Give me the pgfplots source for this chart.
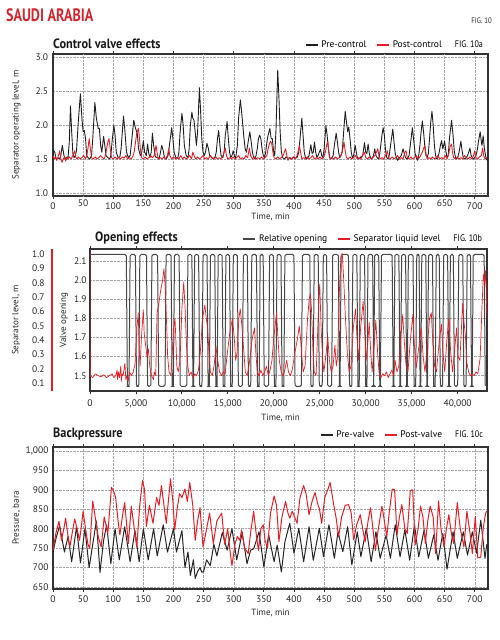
\documentclass[border=0pt]{standalone}
\usepackage{fontspec}
\setmainfont{PT Sans}
\usepackage{graphicx}
\usepackage{pgfplots}
\pgfplotsset{compat=1.18}

\definecolor{serred}{RGB}{232,30,38}
\definecolor{hdred}{RGB}{214,38,45}
\definecolor{gridgray}{RGB}{165,165,165}

\pgfplotsset{
  panel/.style={
    scale only axis,
    /pgf/number format/assume math mode=true,
    tick label style={font=\fontsize{9.5}{10}\selectfont, text=black!85},
    label style={font=\fontsize{9}{10}\selectfont, text=black!85},
    axis line style={black!80, line width=1.1pt},
    grid style={gridgray, densely dotted, line width=0.45pt},
    xtick align=outside,
    major tick length=3pt,
    tick style={black!80, line width=0.8pt},
    ytick style={draw=none},
    legend style={draw=none, fill=none, font=\fontsize{9.5}{10}\selectfont,
      legend columns=-1, outer sep=0pt,
      /tikz/every odd column/.append style={column sep=1pt},
      /tikz/every even column/.append style={column sep=8pt}},
    legend image code/.code={\draw[#1, line width=1.3pt] (0pt,0pt) -- (12pt,0pt);},
  },
  onedec/.style={/pgf/number format/fixed, /pgf/number format/fixed zerofill,
    /pgf/number format/precision=1},
}

\begin{document}
\begin{tikzpicture}[x=1pt,y=1pt]
\useasboundingbox (0,0) rectangle (499,-640);

% ---------------- Fig. 10a: separator level before / after control ----------------
\begin{axis}[panel,
  at={(53pt,-54pt)}, anchor=north west, width=435pt, height=142pt,
  xmin=0, xmax=722, ymin=0.955, ymax=3.045,
  xtick={0,100,...,700}, extra x ticks={50,150,...,650},
  extra x tick style={grid=major, major tick length=0pt},
  ytick={1,1.5,2,2.5,3}, yticklabel style={onedec, xshift=-1.5pt},
  grid=major,
  xlabel={Time, min}, xlabel style={at={(axis description cs:0.5,0)}, anchor=center, yshift=-21pt},
  ylabel={Separator operating level, m},
  ylabel style={at={(axis description cs:-0.084,0.5)}, anchor=center},
  legend style={at={(axis description cs:1,1)}, anchor=south east, yshift=1pt},
]
\addplot[black!88, line width=0.9pt, line join=round] coordinates {
(0,1.48)(1,1.62)(3,1.60)(5,1.50)(8,1.52)(11,1.50)(13,1.55)(15.5,1.70)(18,1.56)(20,1.50)
(23,1.53)(25,1.52)(27,1.75)(29,2.28)(31,1.90)(33,1.58)(35,1.52)(37,1.55)(39,1.62)(42,2.05)
(45.5,2.46)(48,2.10)(50,1.90)(52,1.92)(54,1.80)(56,1.55)(58,1.52)(61,1.50)(64,1.55)(66,1.80)
(69.5,2.33)(72,2.10)(75,1.95)(77,1.95)(79,1.70)(81,1.60)(84,1.83)(86,1.70)(88,1.55)(91,1.52)
(94,1.50)(96,1.55)(98,1.75)(101,2.00)(103,1.85)(105,1.60)(108,1.52)(111,1.53)(113,1.65)(117,2.13)
(119,1.95)(122,1.60)(125,1.52)(128,1.55)(131,1.80)(134,2.07)(137,1.95)(140,1.87)(142,1.65)(145,1.55)
(147,1.58)(150,1.77)(152,1.60)(155,1.55)(157,1.72)(159,1.58)(161,1.52)(163,1.60)(165,1.88)(167,1.70)
(170,1.53)(173,1.52)(176,1.50)(178,1.58)(180.5,1.70)(183,1.62)(185,1.52)(188,1.50)(191,1.55)(194,1.75)
(197,1.96)(199,1.80)(201,1.60)(204,1.52)(207,1.51)(209,1.60)(211,1.90)(214,2.17)(216,2.00)(218,1.70)
(221,1.55)(224,1.52)(226,1.65)(228,2.00)(230.5,2.19)(232,2.10)(234,2.07)(236,1.90)(238,1.70)(240,1.90)
(243,2.55)(245,2.20)(247,1.80)(249,1.60)(251,1.55)(253,1.60)(255.5,1.73)(258,1.65)(260,1.55)(263,1.52)
(266,1.50)(269,1.53)(271,1.60)(273,1.80)(275,1.92)(277,1.70)(279,1.55)(282,1.52)(284,1.60)(286,1.85)
(289,2.05)(291,1.80)(293,1.60)(295,1.52)(297,1.55)(299,1.62)(301,1.55)(303,1.50)(306,1.70)(308,2.10)
(311,2.37)(313,2.20)(315,2.00)(317,1.80)(319,1.65)(321,1.60)(323,1.70)(326.7,1.90)(329,1.75)(331,1.60)
(333,1.52)(335,1.50)(337,1.55)(339,1.65)(341,1.80)(343,1.85)(345,1.80)(347,1.65)(349,1.55)(351,1.52)
(353,1.60)(355,1.75)(357,1.85)(360,1.95)(362,1.80)(364,1.80)(366,1.62)(368,1.55)(370,1.90)(373,2.81)
(375,2.40)(377,1.90)(379,1.61)(381,1.52)(384,1.50)(387,1.53)(390,1.51)(393,1.52)(396,1.50)(399,1.53)
(402,1.51)(405,1.52)(408,1.60)(411,1.90)(413,2.10)(415,1.85)(417,1.60)(419,1.52)(421,1.50)(423,1.52)
(425,1.55)(428,1.71)(430,1.58)(432,1.60)(434,1.75)(436,1.60)(438,1.52)(440,1.55)(442,1.60)(444,1.64)
(446,1.55)(448,1.52)(450,1.65)(453,1.99)(455,1.85)(457,1.65)(459,1.52)(461,1.50)(463,1.52)(465,1.55)
(467,1.70)(470,1.88)(472,1.75)(474,1.60)(476,1.52)(478,1.55)(480,1.60)(482,1.85)(485,2.20)(487,2.05)
(489,1.90)(491,1.97)(493,1.80)(495,1.60)(497,1.52)(499,1.55)(501.5,1.70)(503,1.62)(505,1.52)(508,1.50)
(511,1.53)(514,1.55)(517,1.74)(519,1.60)(521,1.58)(523,1.72)(525,1.58)(527,1.52)(529,1.50)(532,1.55)
(534,1.65)(536,1.55)(538,1.52)(540,1.50)(542,1.55)(544,1.70)(546,1.85)(548,1.96)(550,1.85)(552,1.62)
(554,1.52)(556,1.50)(558,1.55)(561,1.75)(564,1.94)(566,1.75)(568,1.58)(570,1.52)(572,1.48)(575,1.52)
(578,1.55)(581,1.65)(583,1.58)(585,1.52)(588,1.50)(591,1.55)(593,1.70)(596.5,1.96)(599,1.75)(601,1.58)
(603,1.52)(605,1.48)(607,1.55)(609,1.70)(611,1.90)(613,2.06)(615,1.90)(617,1.70)(619,1.55)(621,1.52)
(623,1.58)(625,1.80)(627,2.05)(629,2.20)(631,2.00)(633,1.70)(635,1.55)(637,1.50)(639,1.52)(641,1.60)
(643,1.70)(645,1.77)(647,1.65)(650,1.76)(652,1.62)(654,1.52)(656,1.55)(658,1.80)(661.5,2.07)(664,1.85)
(666,1.62)(668,1.52)(670,1.50)(672,1.53)(674,1.60)(677,1.76)(679,1.62)(681,1.52)(683,1.50)(686,1.52)
(688,1.55)(690,1.60)(692,1.66)(694,1.55)(696,1.52)(698,1.50)(700,1.52)(702,1.55)(704,1.62)(706,1.75)
(709,1.90)(711,1.75)(712,1.70)(714,1.84)(716,1.65)(718,1.55)(720,1.48)
};
\addlegendentry{Pre-control}
\addplot[serred, line width=0.9pt, line join=round] coordinates {
(0,1.55)(2,1.50)(4,1.53)(6,1.48)(8,1.52)(10,1.58)(11,1.62)(13,1.50)(15,1.45)(17,1.50)
(19,1.53)(21,1.47)(23,1.52)(25,1.50)(27,1.53)(30,1.50)(33,1.55)(36,1.62)(38,1.52)(40,1.50)
(42,1.53)(45,1.50)(48,1.52)(51,1.55)(54,1.50)(56,1.55)(58,1.65)(60,1.80)(62,1.65)(64,1.52)
(67,1.50)(70,1.53)(73,1.50)(76,1.52)(79,1.55)(82,1.52)(85,1.50)(87,1.55)(89,1.65)(91,1.75)
(93,1.80)(95,1.65)(97,1.52)(100,1.50)(103,1.53)(106,1.50)(109,1.52)(112,1.50)(115,1.53)(118,1.51)
(121,1.55)(124,1.50)(127,1.52)(130,1.50)(133,1.55)(135,1.62)(137,1.75)(139,1.88)(141.7,1.95)(143,1.85)
(145,1.65)(147,1.52)(150,1.50)(153,1.53)(156,1.50)(159,1.52)(162,1.55)(165,1.52)(168,1.55)(171,1.70)
(173,1.58)(175,1.50)(178,1.52)(181,1.50)(184,1.53)(187,1.50)(190,1.55)(192,1.65)(194,1.55)(197,1.50)
(200,1.53)(203,1.50)(206,1.52)(209,1.50)(212,1.55)(215,1.50)(218,1.53)(221,1.50)(224,1.52)(227,1.55)
(230,1.50)(232,1.60)(234,1.55)(237,1.50)(240,1.53)(243,1.50)(246,1.52)(249,1.55)(252,1.50)(255,1.52)
(258,1.50)(261,1.55)(264,1.52)(267,1.50)(270,1.53)(273,1.50)(276,1.52)(279,1.50)(282,1.55)(284,1.60)
(286,1.66)(288,1.55)(290,1.50)(293,1.52)(296,1.50)(299,1.53)(302,1.50)(305,1.52)(308,1.55)(311,1.50)
(314,1.52)(317,1.50)(320,1.55)(323,1.52)(326,1.66)(328,1.55)(331,1.50)(334,1.53)(337,1.50)(340,1.52)
(343,1.50)(346,1.53)(349,1.50)(352,1.52)(355,1.55)(357,1.65)(359,1.72)(361,1.76)(363,1.73)(365,1.60)
(367,1.52)(370,1.50)(373,1.53)(376,1.50)(379,1.52)(382,1.55)(384,1.60)(386,1.65)(388,1.55)(390,1.48)
(393,1.52)(396,1.50)(399,1.53)(402,1.50)(405,1.55)(407,1.62)(409,1.70)(411,1.60)(413,1.50)(416,1.52)
(419,1.50)(422,1.53)(425,1.50)(428,1.52)(431,1.55)(434,1.50)(437,1.52)(440,1.50)(443,1.53)(446,1.50)
(449,1.52)(452,1.60)(454,1.70)(456,1.76)(458,1.60)(460,1.50)(463,1.52)(466,1.50)(469,1.53)(472,1.50)
(475,1.52)(478,1.55)(481,1.65)(483,1.75)(485,1.62)(487,1.52)(490,1.50)(493,1.53)(496,1.50)(499,1.52)
(502,1.55)(505,1.50)(508,1.52)(511,1.50)(514,1.55)(517,1.60)(519,1.52)(522,1.50)(525,1.53)(528,1.50)
(531,1.52)(534,1.55)(537,1.60)(539,1.65)(541,1.55)(543,1.50)(546,1.52)(549,1.50)(552,1.55)(555,1.62)
(557,1.52)(560,1.50)(563,1.53)(566,1.50)(569,1.52)(572,1.55)(575,1.50)(578,1.52)(581,1.50)(584,1.60)
(586,1.62)(588,1.52)(591,1.50)(594,1.53)(597,1.50)(600,1.52)(603,1.55)(606,1.50)(609,1.53)(612,1.58)
(615,1.65)(617,1.70)(619,1.58)(621,1.50)(624,1.52)(627,1.50)(630,1.53)(633,1.50)(636,1.52)(639,1.55)
(642,1.50)(645,1.52)(648,1.50)(651,1.55)(654,1.50)(657,1.58)(659,1.68)(661.5,1.72)(663,1.60)(665,1.52)
(668,1.50)(671,1.53)(674,1.50)(677,1.52)(680,1.50)(683,1.55)(686,1.52)(689,1.50)(692,1.53)(695,1.50)
(698,1.55)(700,1.62)(702,1.52)(705,1.50)(708,1.53)(711,1.55)(713,1.66)(715,1.55)(717,1.50)(720,1.52)
};
\addlegendentry{Post-control}
\addlegendimage{empty legend}
\addlegendentry{\scalebox{0.85}[1]{FIG.~10a}}
\end{axis}

% ---------------- Fig. 10b: secondary level scale on the left ----------------
\begin{axis}[panel,
  at={(52pt,-249pt)}, anchor=north west, width=1pt, height=142pt,
  xmin=0, xmax=1, ymin=0.045, ymax=1.035,
  hide x axis, axis y line*=left,
  y axis line style={serred, line width=1.8pt},
  ytick={0.1,0.2,0.3,0.4,0.5,0.6,0.7,0.8,0.9,1.0},
  yticklabel style={onedec, xshift=-4pt},
  major tick length=0pt,
  ylabel={Separator level, m},
  ylabel style={at={(axis description cs:-36,0.5)}, anchor=center},
]
\addplot[draw=none] coordinates {(0.5,0.5)};
\end{axis}

% ---------------- Fig. 10b: valve opening and liquid level ----------------
\begin{axis}[panel,
  at={(90pt,-249pt)}, anchor=north west, width=397pt, height=142pt,
  xmin=0, xmax=43200, ymin=1.42, ymax=2.163,
  xtick={0,5000,...,40000}, scaled x ticks=false,
  xticklabel style={/pgf/number format/1000 sep={,}, yshift=-2pt},
  ytick={1.5,1.6,1.7,1.8,1.9,2.0,2.1}, yticklabel style={onedec},
  ymajorgrids,
  xlabel={Time, min}, xlabel style={at={(axis description cs:0.48,0)}, anchor=center, yshift=-27pt},
  ylabel={Valve opening},
  ylabel style={at={(axis description cs:-0.066,0.5)}, anchor=center},
  legend style={at={(axis description cs:1,1)}, anchor=south east, yshift=2pt},
]
\addplot[black!72, line width=1pt, rounded corners=1.5pt] coordinates {
(0,2.135)(3950,2.135)(4070,1.444)
(4245,1.444)(4365,2.135)(4940,2.135)(5060,1.444)
(5306,1.444)(5426,2.135)(6147,2.135)(6267,1.444)
(6623,1.444)(6743,2.135)(7355,2.135)(7475,1.444)
(8160,1.444)(8280,2.135)(8818,2.135)(8938,1.444)
(9074,1.444)(9194,2.135)(9696,2.135)(9816,1.444)
(10537,1.444)(10657,2.135)(11086,2.135)(11206,1.444)
(11269,1.444)(11389,2.135)(11818,2.135)(11938,1.444)
(12183,1.444)(12303,2.135)(12732,2.135)(12852,1.444)
(12988,1.444)(13108,2.135)(13573,2.135)(13693,1.444)
(13829,1.444)(13949,2.135)(14378,2.135)(14498,1.444)
(14670,1.444)(14790,2.135)(15183,2.135)(15303,1.444)
(15476,1.444)(15596,2.135)(16025,2.135)(16145,1.444)
(16573,1.444)(16693,2.135)(17122,2.135)(17242,1.444)
(17488,1.444)(17608,2.135)(18110,2.135)(18230,1.444)
(18403,1.444)(18523,2.135)(18842,2.135)(18962,1.444)
(19427,1.444)(19547,2.135)(19940,2.135)(20060,1.444)
(20233,1.444)(20353,2.135)(20782,2.135)(20902,1.444)
(21090,1.444)(21210,2.135)(22190,2.135)(22310,1.444)
(23001,1.444)(23121,2.135)(23916,2.135)(24036,1.444)
(24282,1.444)(24402,2.135)(24830,2.135)(24950,1.444)
(25269,1.444)(25389,2.135)(25745,2.135)(25865,1.444)
(26293,1.444)(26413,2.135)(27025,2.135)(27145,1.444)
(27208,1.444)(27328,2.135)(28123,2.135)(28243,1.444)
(28488,1.444)(28608,2.135)(29037,2.135)(29157,1.444)
(29293,1.444)(29413,2.135)(29878,2.135)(29998,1.444)
(30134,1.444)(30254,2.135)(30756,2.135)(30876,1.444)
(30866,1.444)(30986,2.135)(31415,2.135)(31535,1.444)
(31598,1.444)(31718,2.135)(32878,2.135)(32998,1.444)
(33061,1.444)(33181,2.135)(33609,2.135)(33729,1.444)
(33792,1.444)(33912,2.135)(34341,2.135)(34461,1.444)
(34524,1.444)(34644,2.135)(35146,2.135)(35266,1.444)
(35439,1.444)(35559,2.135)(35804,2.135)(35924,1.444)
(35987,1.444)(36107,2.135)(36536,2.135)(36656,1.444)
(36719,1.444)(36839,2.135)(37268,2.135)(37388,1.444)
(37560,1.444)(37680,2.135)(38000,2.135)(38120,1.444)
(38365,1.444)(38485,2.135)(38914,2.135)(39034,1.444)
(39097,1.444)(39217,2.135)(39536,2.135)(39656,1.444)
(40011,1.444)(40131,2.135)(40560,2.135)(40680,1.444)
(40926,1.444)(41046,2.135)(41401,2.135)(41521,1.444)
(41584,1.444)(41704,2.135)(42890,2.135)(43010,1.444)(43200,1.444)
};
\addlegendentry{Relative opening}
\addplot[serred, line width=0.7pt, line join=round] coordinates {
(0,2.16)(20,1.50)(300,1.49)(600,1.51)(900,1.50)(1200,1.495)(1500,1.505)(1800,1.49)(2100,1.50)(2400,1.51)
(2600,1.49)(2800,1.50)(2950,1.53)(3000,1.48)(3100,1.52)(3200,1.49)(3350,1.55)(3400,1.47)(3500,1.51)(3600,1.50)
(3800,1.565)(3900,1.48)(4000,1.50)(4150,1.47)(4300,1.52)(4500,1.50)(4700,1.52)(4900,1.56)(5100,1.75)(5250,1.83)
(5350,1.65)(5450,1.55)(5600,1.70)(5800,1.845)(5900,1.72)(6050,1.66)(6200,1.60)(6350,1.64)(6500,1.55)(6700,1.50)
(6900,1.48)(7000,1.52)(7150,1.50)(7300,1.83)(7500,1.88)(7700,1.95)(7900,2.00)(8050,2.06)(8200,1.95)(8350,1.75)
(8450,1.60)(8600,1.52)(8800,1.50)(8950,1.62)(9100,1.75)(9250,1.80)(9350,1.68)(9450,1.55)(9600,1.52)(9800,1.58)
(10000,1.85)(10200,1.99)(10350,1.85)(10500,1.66)(10650,1.55)(10800,1.50)(11000,1.52)(11200,1.49)(11400,1.51)(11600,1.50)
(11800,1.53)(12000,1.62)(12250,1.80)(12500,1.87)(12650,1.80)(12800,1.75)(12950,1.62)(13100,1.52)(13300,1.50)(13500,1.55)
(13700,1.65)(13900,1.58)(14100,1.52)(14300,1.50)(14500,1.52)(14700,1.51)(14900,1.60)(15200,1.72)(15500,1.80)(15700,1.70)
(15850,1.58)(16000,1.62)(16200,1.80)(16350,1.85)(16550,1.75)(16750,1.62)(16900,1.52)(17100,1.50)(17300,1.55)(17600,1.68)
(17900,1.75)(18050,1.62)(18200,1.52)(18400,1.50)(18600,1.53)(18800,1.50)(19000,1.52)(19200,1.55)(19400,1.50)(19600,1.53)
(19800,1.58)(20000,1.70)(20300,1.83)(20450,1.70)(20600,1.58)(20800,1.52)(21000,1.50)(21200,1.53)(21400,1.58)(21600,1.52)
(21800,1.50)(22000,1.53)(22300,1.62)(22600,1.70)(22770,1.76)(22900,1.70)(23050,1.60)(23200,1.52)(23400,1.55)(23650,1.78)
(23850,1.90)(23980,1.93)(24100,1.85)(24250,1.65)(24400,1.52)(24600,1.50)(24750,1.70)(24900,1.90)(25000,1.98)(25150,1.75)
(25300,1.60)(25450,1.52)(25650,1.60)(25880,1.70)(26050,1.58)(26250,1.52)(26450,1.55)(26650,1.66)(26800,1.55)(26950,1.60)
(27100,1.90)(27300,2.12)(27450,2.14)(27600,2.01)(27800,1.80)(28000,1.62)(28200,1.52)(28400,1.55)(28650,1.75)(28900,1.85)
(29050,1.70)(29200,1.58)(29450,1.75)(29720,1.89)(29900,1.72)(30050,1.58)(30200,1.65)(30380,1.78)(30550,1.62)(30700,1.52)
(30900,1.65)(31100,1.79)(31300,1.62)(31450,1.52)(31650,1.49)(31850,1.51)(32050,1.50)(32250,1.52)(32450,1.49)(32650,1.51)
(32850,1.53)(33050,1.50)(33200,1.58)(33400,1.52)(33600,1.55)(33850,1.72)(34030,1.82)(34200,1.68)(34400,1.55)(34600,1.52)
(34850,1.68)(35130,1.82)(35300,1.66)(35500,1.54)(35700,1.62)(36050,1.75)(36250,1.60)(36450,1.52)(36700,1.65)(36950,1.80)
(37140,1.83)(37300,1.68)(37500,1.55)(37700,1.52)(38000,1.68)(38240,1.77)(38400,1.62)(38600,1.52)(38850,1.70)(39050,1.80)
(39250,1.62)(39450,1.52)(39650,1.62)(39890,1.75)(40050,1.60)(40250,1.58)(40550,1.88)(40700,1.78)(40850,1.71)(41000,1.57)
(41200,1.52)(41400,1.50)(41600,1.51)(41800,1.50)(42000,1.52)(42200,1.51)(42450,1.59)(42650,1.85)(42800,2.03)(42950,1.98)
(43050,2.05)(43200,1.80)
};
\addlegendentry{Separator liquid level}
\addlegendimage{empty legend}
\addlegendentry{\scalebox{0.85}[1]{FIG.~10b}}
\end{axis}

% ---------------- Fig. 10c: pressure upstream / downstream of the valve ----------------
\begin{axis}[panel,
  at={(53pt,-447pt)}, anchor=north west, width=435pt, height=142pt,
  xmin=0, xmax=722, ymin=645, ymax=1010,
  xtick={0,50,...,700},
  ytick={650,700,...,1000}, yticklabel style={/pgf/number format/1000 sep={,}, xshift=-1pt},
  grid=major,
  xlabel={Time, min}, xlabel style={at={(axis description cs:0.5,0)}, anchor=center, yshift=-24pt},
  ylabel={Pressure, bara},
  ylabel style={at={(axis description cs:-0.084,0.5)}, anchor=center},
  legend style={at={(axis description cs:1,1)}, anchor=south east, yshift=4pt},
]
\addplot[black!85, line width=1pt, line join=round] coordinates {
(0,740)(5,775)(11,808)(19,740)(25,780)(31,715)(39,805)(45.6,712)(53,800)(60,700)
(66,760)(72,820)(78,688)(84,770)(89,810)(96,710)(103,800)(110,720)(119,805)(128,715)
(136,795)(143,715)(150,800)(158,720)(167,800)(173,730)(183,810)(190,740)(200,800)(205,740)
(214,795)(219,700)(224,740)(228,680)(233,720)(236,672)(240,690)(244,700)(247,688)(250,690)
(255,720)(261,705)(267,760)(272,730)(281,790)(289,745)(297,800)(305,720)(314,790)(322,710)
(328,745)(333,748)(342,792)(350,702)(358,784)(367,715)(372,758)(379,689)(385,767)(393,814)
(400,737)(408,801)(416,715)(425,805)(432,719)(442,801)(449,728)(458,810)(467,724)(473,792)
(481,741)(489,805)(496,707)(505,792)(511,728)(520,801)(528,715)(536,792)(543,724)(553,784)
(560,724)(568,810)(576,728)(584,797)(592,719)(600,810)(607,728)(616,797)(623,724)(632,784)
(639,719)(647,788)(654,696)(664,792)(671,724)(681,792)(688,732)(696,792)(703,737)(710,822)
(717,724)(720,760)
};
\addlegendentry{Pre-valve}
\addplot[serred, line width=1pt, line join=round] coordinates {
(0,745)(5,790)(10,819)(14,770)(18,800)(21,827)(25,780)(28,753)(32,790)(36,825)
(40,800)(44,770)(47,805)(50,845)(54,800)(58,760)(61,749)(66,871)(71,820)(75,780)
(80,753)(85,830)(91,788)(97,906)(100,900)(104,880)(108,820)(111,784)(116,840)(119,867)
(125,762)(130,858)(135,800)(139,753)(144,860)(148.6,924)(152,900)(155,806)(160,860)(166,814)
(172,880)(176,860)(180,911)(185,850)(188,814)(195,928)(199,870)(202,797)(206,850)(210,890)
(214,880)(219,902)(223,870)(227,919)(232,860)(236,770)(240,820)(244,854)(249,753)(255,800)
(260,840)(266,762)(272,820)(280,840)(285,760)(290,800)(294,740)(297,705)(302,760)(306,780)
(310,770)(313,797)(318,750)(324,736)(328,790)(333,845)(337,790)(341,744)(345,800)(349,810)
(352,770)(356,750)(361,840)(367,884)(371,860)(375,767)(380,830)(386,870)(390,840)(393,827)
(397,845)(401,830)(405,814)(410,880)(416,911)(420,890)(425,836)(430,870)(435,893)(440,860)
(442,853)(446,814)(451,880)(456,900)(460,919)(465,870)(470,827)(474,779)(479,830)(485,860)
(490.5,862)(495,840)(499,771)(504,810)(510,836)(514,800)(518,766)(523,820)(527,854)(531,800)
(535,744)(540,800)(546,858)(550,820)(554,779)(558,840)(563,902)(567,900)(571,784)(575,830)
(579,862)(584,800)(588,788)(593,898)(597,900)(601,758)(606,800)(610,858)(614,830)(618,762)
(622,820)(626,858)(631,830)(635,736)(640,871)(644,800)(649,753)(653,800)(657,836)(661,790)
(665,762)(671,867)(676,800)(682,753)(687,845)(692,790)(696,736)(701,832)(705,725)(710,727)
(714,800)(718,840)(720,845)
};
\addlegendentry{Post-valve}
\addlegendimage{empty legend}
\addlegendentry{\scalebox{0.85}[1]{FIG.~10c}}
\end{axis}

% ---------------- headings ----------------
\node[anchor=base west, inner sep=0pt, text=hdred, font=\bfseries\fontsize{18}{20}\selectfont]
  at (6,-21) {\scalebox{0.78}[1]{SAUDI ARABIA}};
\node[anchor=base east, inner sep=0pt, text=black!85, font=\fontsize{8}{9}\selectfont]
  at (492,-23) {\scalebox{0.85}[1]{FIG.~10}};
\node[anchor=base west, inner sep=0pt, text=black!90, font=\bfseries\fontsize{13.5}{15}\selectfont]
  at (53,-48.3) {\scalebox{0.91}[1]{Control valve effects}};
\node[anchor=base west, inner sep=0pt, text=black!90, font=\bfseries\fontsize{13.5}{15}\selectfont]
  at (95,-241.7) {\scalebox{0.91}[1]{Opening effects}};
\node[anchor=base west, inner sep=0pt, text=black!90, font=\bfseries\fontsize{13.5}{15}\selectfont]
  at (53,-437.7) {\scalebox{0.91}[1]{Backpressure}};
\end{tikzpicture}
\end{document}
